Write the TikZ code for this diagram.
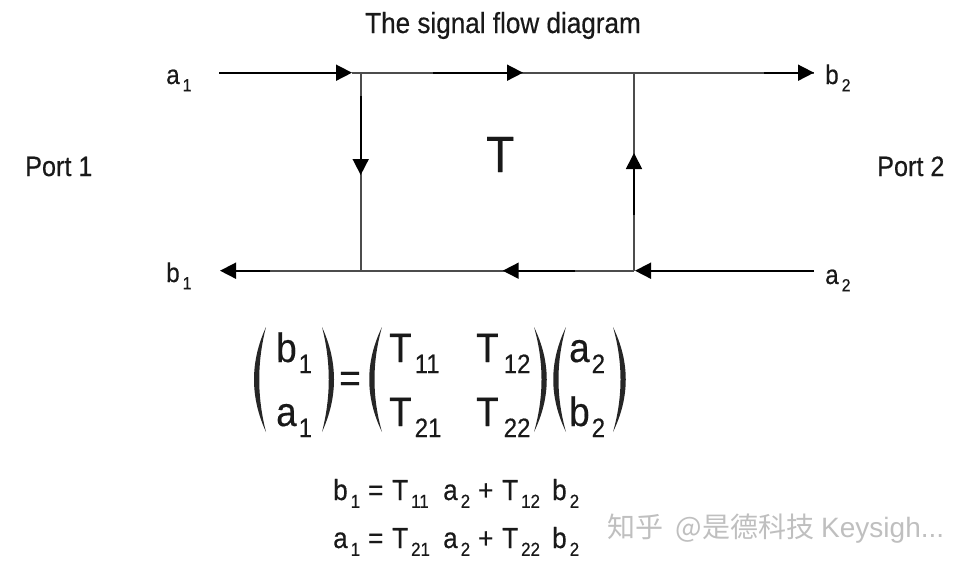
\documentclass[tikz,border=0pt]{standalone}
\usepackage{fontspec}
\setmainfont[FakeStretch=0.9,FakeBold=0.4]{Liberation Sans}
\newfontfamily\cjkfont{Noto Sans CJK SC}
\newfontfamily\wmfont{Liberation Sans}
\usetikzlibrary{arrows.meta}
\newcommand{\sbt}[3]{#1\kern#3pt\raisebox{-0.27em}{\fontsize{0.65em}{1em}\selectfont #2}}
\tikzset{
  x=1pt,y=-1pt,
  wire/.style={draw=black!70,line width=1.7pt},
  flow/.style={draw=black,line width=1.7pt,-{Triangle[length=16pt,width=16pt]}},
  lab/.style={inner sep=0pt,anchor=base west,text=black!90},
  lbl/.style={lab,font=\fontsize{27}{27}\selectfont},
  mat/.style={lab,font=\fontsize{41}{41}\selectfont},
  eqn/.style={lab,font=\fontsize{29}{29}\selectfont},
  paren/.style={fill=black!85,draw=none},
  wmark/.style={inner sep=0pt,anchor=base west,text=black!25,font=\fontsize{28}{28}\selectfont}
}
\begin{document}
\begin{tikzpicture}
\useasboundingbox (0,0) rectangle (974,571);
% coordinates
\coordinate (a1s) at (219,72.7);
\coordinate (t1) at (352,72.7);
\coordinate (j1) at (360.7,72.7);
\coordinate (s2) at (433,72.7);
\coordinate (t2) at (523,72.7);
\coordinate (j2) at (634,72.7);
\coordinate (s3) at (764,72.7);
\coordinate (t3) at (814,72.7);
\coordinate (s4) at (360.7,96);
\coordinate (t4) at (360.7,175);
\coordinate (j3) at (360.7,270.7);
\coordinate (j4) at (634,270.7);
\coordinate (s5) at (634,215);
\coordinate (t5) at (634,153);
\coordinate (a2s) at (814,270.7);
\coordinate (t6) at (635,270.7);
\coordinate (s7) at (575,270.7);
\coordinate (t7) at (502.7,270.7);
\coordinate (s8) at (270,270.7);
\coordinate (t8) at (220,270.7);
% wires
\draw[wire] (j1) -- (t3) (j1) -- (j3) (j2) -- (j4) (s8) -- (j4) (t1) -- (j1);
\draw[flow] (a1s) -- (t1);
\draw[flow] (s2) -- (t2);
\draw[flow] (s3) -- (t3);
\draw[flow] (s4) -- (t4);
\draw[flow] (s5) -- (t5);
\draw[flow] (a2s) -- (t6);
\draw[flow] (s7) -- (t7);
\draw[flow] (s8) -- (t8);
% labels
\node[lab,font=\fontsize{29}{29}\selectfont] (title) at (365,33) {The signal flow diagram};
\node[lbl] (la1) at (166,84) {\sbt{a}{1}{3}};
\node[lbl] (lb1) at (166,282) {\sbt{b}{1}{3}};
\node[lbl] (lb2) at (825,84) {\sbt{b}{2}{3}};
\node[lbl] (la2) at (825,284) {\sbt{a}{2}{3}};
\node[lab,font=\fontsize{28}{28}\selectfont] (p1) at (25,176) {Port 1};
\node[lab,font=\fontsize{28}{28}\selectfont] (p2) at (877,176) {Port 2};
\node[lab,font=\fontsize{51}{51}\selectfont] (T) at (486,172) {T};
% matrices
\node[mat] (m1) at (276,362) {\sbt{b}{1}{2}};
\node[mat] (m2) at (276,426) {\sbt{a}{1}{2}};
\node[mat] (eq) at (339,392) {=};
\node[mat] (m3) at (389,362) {\sbt{T}{11}{3}};
\node[mat] (m4) at (476,362) {\sbt{T}{12}{5}};
\node[mat] (m5) at (389,426) {\sbt{T}{21}{3}};
\node[mat] (m6) at (476,426) {\sbt{T}{22}{5}};
\node[mat] (m7) at (569,362) {\sbt{a}{2}{2}};
\node[mat] (m8) at (569,426) {\sbt{b}{2}{2}};
% parens
\foreach \xa/\xb in {266/254,382/369,566/553}
  \fill[paren] (\xa,327) .. controls (\xb-4,362) and (\xb-4,397) .. (\xa,432)
     .. controls (\xb+3,397) and (\xb+3,362) .. (\xa,327);
\foreach \xa/\xb in {322/334,534/547,613/626}
  \fill[paren] (\xa,327) .. controls (\xb+4,362) and (\xb+4,397) .. (\xa,432)
     .. controls (\xb-3,397) and (\xb-3,362) .. (\xa,327);
% equations
\node[eqn] (e1) at (333,500) {\sbt{b}{1}{3}};
\node[eqn] (e2) at (368,500) {=};
\node[eqn] (e3) at (392,500) {\sbt{T}{11}{3}};
\node[eqn] (e4) at (443,500) {\sbt{a}{2}{3}};
\node[eqn] (e5) at (478,500) {+};
\node[eqn] (e6) at (502,500) {\sbt{T}{12}{3}};
\node[eqn] (e7) at (552,500) {\sbt{b}{2}{3}};
\node[eqn] (f1) at (333,548) {\sbt{a}{1}{3}};
\node[eqn] (f2) at (368,548) {=};
\node[eqn] (f3) at (392,548) {\sbt{T}{21}{3}};
\node[eqn] (f4) at (443,548) {\sbt{a}{2}{3}};
\node[eqn] (f5) at (478,548) {+};
\node[eqn] (f6) at (502,548) {\sbt{T}{22}{3}};
\node[eqn] (f7) at (552,548) {\sbt{b}{2}{3}};
% watermark
\node[wmark] (wm) at (607,537) {{\cjkfont 知乎\ \ @是德科技} \wmfont Keysigh...};
\end{tikzpicture}
\end{document}
